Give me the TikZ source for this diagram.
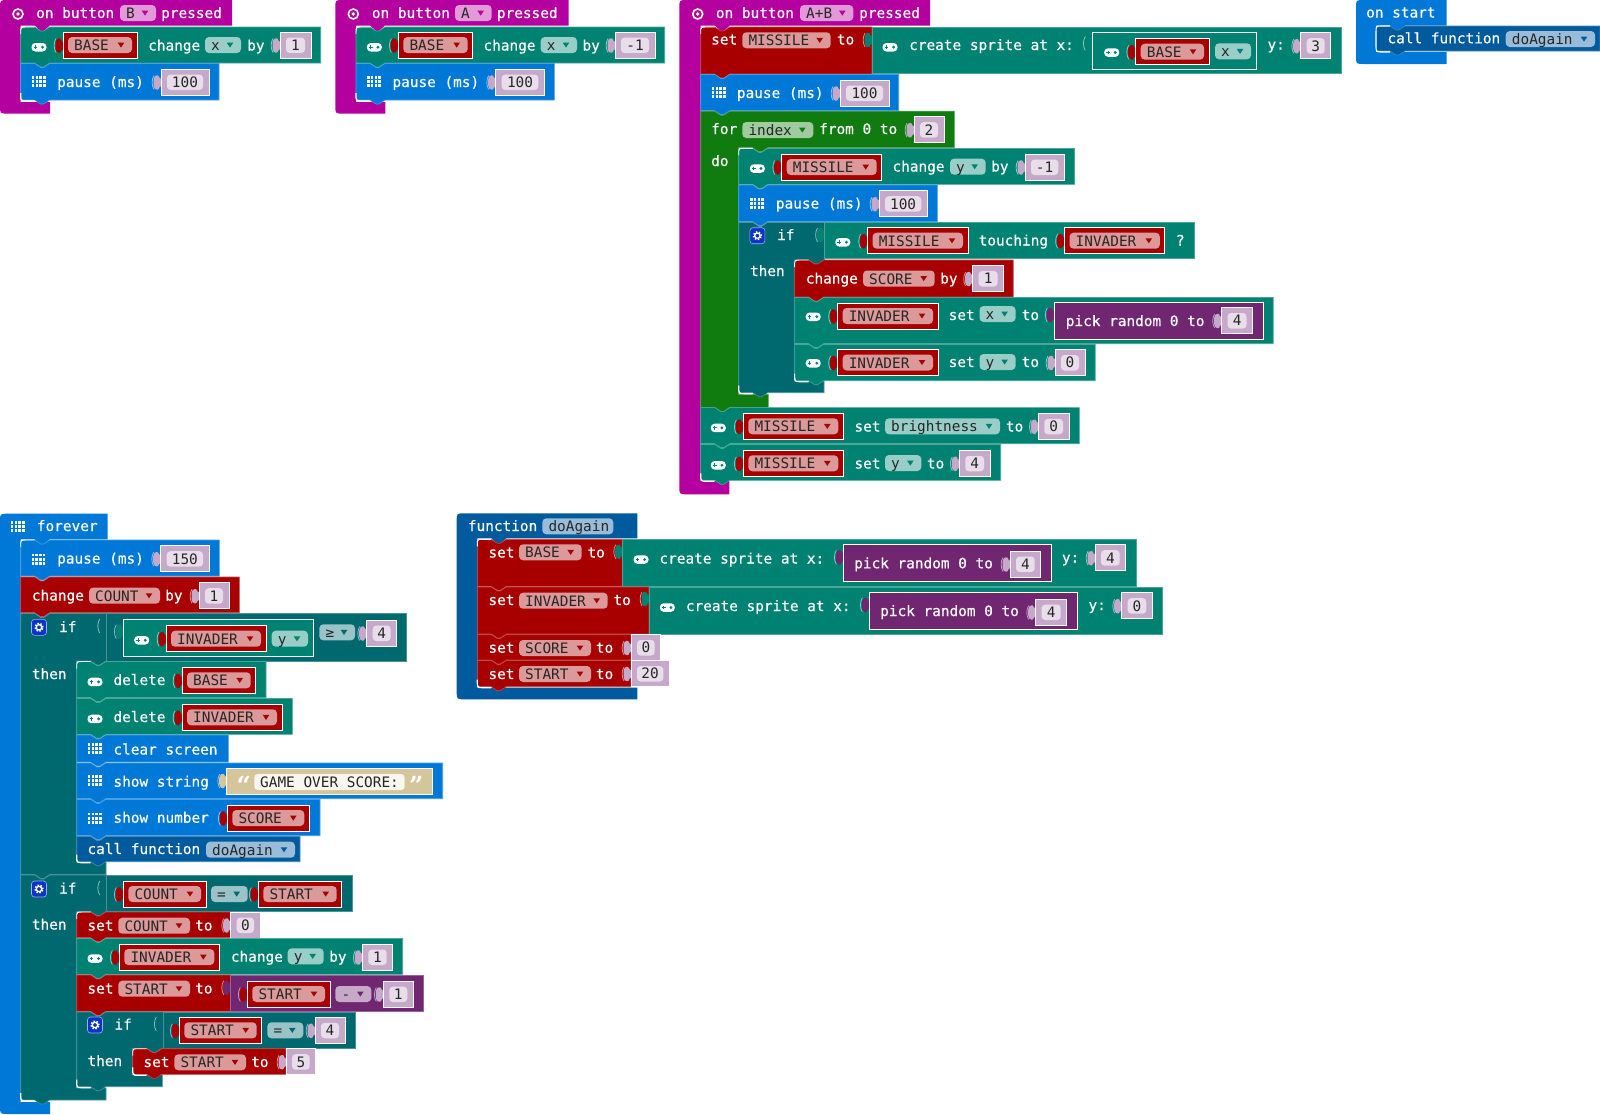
\documentclass[tikz,border=0pt]{standalone}
\usepackage{fontspec}
\setmonofont{DejaVu Sans Mono}
\newfontfamily\lf[FakeBold=0.45]{DejaVu Sans Mono}
\newfontfamily\qf{DejaVu Serif}
\definecolor{cSpr}{HTML}{008272}
\definecolor{cBas}{HTML}{0078D7}
\definecolor{cInp}{HTML}{B4009E}
\definecolor{cVar}{HTML}{A80000}
\definecolor{cLoo}{HTML}{107C10}
\definecolor{cLog}{HTML}{006970}
\definecolor{cMat}{HTML}{712672}
\definecolor{cFun}{HTML}{005A9E}
\definecolor{cTxt}{HTML}{D5C59A}
\definecolor{cSha}{HTML}{C6A8CA}
\definecolor{cFld}{HTML}{E8DEE9}
\definecolor{cGea}{HTML}{0A35C8}
\newcommand\fsz{\fontsize{14.4}{16}\selectfont\ttfamily}
\newcommand\lsz{\fontsize{14.4}{16}\selectfont\lf}
\newcount\nid
\newcommand\cfr{0}
\tikzset{
 blk/.style={fill=#1,draw=#1!72!white,line width=.6pt},
 lbl/.style={text=white,anchor=base west,inner sep=0pt,font=\lsz},
 fld/.style={text=black!85,anchor=base west,inner sep=0pt,font=\fsz},
 fldc/.style={text=black!85,anchor=base,inner sep=0pt,font=\fsz},
 qt/.style={text=white,anchor=base west,inner sep=0pt,font=\fontsize{25}{26}\selectfont\qf\bfseries},
 sock/.style={draw=white,opacity=.55,line width=.8pt}
}
\newcommand\tx[4]{\global\advance\nid by 1 \node[#4] (n\the\nid) at (#1,#2) {#3};}
\newcommand\lab[3]{\tx{#1}{#2}{#3}{lbl}}
% statement block: colour,x,y,right,bottom,top-left radius,bottom-left radius
\newcommand\sblk[7]{%
 \path[blk=#1] (#2,#3+#6) .. controls (#2,#3) .. (#2+#6,#3) -- (#2+14,#3) -- (#2+20,#3+4) -- (#2+23,#3+4) -- (#2+29,#3) -- (#4,#3) -- (#4,#5) -- (#2+29,#5) -- (#2+23,#5+4) -- (#2+20,#5+4) -- (#2+14,#5) -- (#2+#7,#5) .. controls (#2,#5) .. (#2,#5-#7) -- cycle;
 \ifnum#6>0 \draw[white,line width=.9pt] (#2,#3+#6+1) -- (#2,#3+#6) .. controls (#2,#3) .. (#2+#6,#3) -- (#2+14,#3);\fi
 \ifnum#7>0 \draw[white,line width=1.2pt] (#2,#5-#7-1) -- (#2,#5-#7) .. controls (#2,#5+1) .. (#2+#7,#5+1) -- (#2+14,#5+1);\fi
}
% hat block with statement mouth
\newcommand\hatb[9]{%
 \fill[#1] (#2,#3+8) .. controls (#2,#3) .. (#2+8,#3) -- (#4,#3) -- (#4,#5) -- (#6+29,#5) -- (#6+23,#5+5.5) -- (#6+20,#5+5.5) -- (#6+14,#5) -- (#6,#5) -- (#6,#7) -- (#8,#7) -- (#8,#9) -- (#2+8,#9) .. controls (#2,#9) .. (#2,#9-8) -- cycle;
}
% notched C block
\newcommand\cnb[9]{%
 \path[blk=#1] (#2,#3) -- (#2+14,#3) -- (#2+20,#3+4) -- (#2+23,#3+4) -- (#2+29,#3) -- (#4,#3) -- (#4,#5) -- (#6+29,#5) -- (#6+23,#5+4) -- (#6+20,#5+4) -- (#6+14,#5) -- (#6,#5) -- (#6,#7) -- (#8,#7) -- (#8,#9) -- (#2+29,#9) -- (#2+23,#9+4) -- (#2+20,#9+4) -- (#2+14,#9) -- (#2+\cfr,#9) .. controls (#2,#9) .. (#2,#9-\cfr) -- cycle;
 \ifnum\cfr>0 \draw[white,line width=1.2pt] (#2,#9-\cfr-1) -- (#2,#9-\cfr) .. controls (#2,#9+1) .. (#2+\cfr,#9+1) -- (#2+14,#9+1);\fi
 \renewcommand\cfr{0}%
}
\newcommand\vtab[3]{%
 \path[sock] (#2-7,#3-7) .. controls (#2-9.5,#3-3) and (#2-9.5,#3+3) .. (#2-7,#3+7);
 \fill[#1,rounded corners=1.2pt] (#2+.6,#3-4.2) -- (#2-2,#3-4.2) -- (#2-2,#3-7.2) -- (#2-5.5,#3-7.2) -- (#2-7.5,#3-4) -- (#2-7.5,#3+4) -- (#2-5.5,#3+7.2) -- (#2-2,#3+7.2) -- (#2-2,#3+4.2) -- (#2+.6,#3+4.2) -- cycle;
}
% value block: [outline] colour,x,y,right,bottom,tab centre
\newcommand\vblk[7][]{%
 \vtab{#2}{#3}{#7}
 \ifx\relax#1\relax
  \path[blk=#2] (#3,#4) rectangle (#5,#6);
 \else
  \path[fill=#2,draw=#1,line width=.7pt] (#3,#4) rectangle (#5,#6);
 \fi
}
% dropdown field: x,y,right,text,colour
\newcommand\dd[5]{%
 \fill[#5!40!white,rounded corners=4pt] (#1,#2) rectangle (#3,#2+16);
 \tx{#1+6}{#2+13.5}{#4}{fld}
 \fill[#5] (#3-14.3,#2+5.6) -- (#3-7.7,#2+5.6) -- (#3-11,#2+10.6) -- cycle;
}
% variable reporter: x,y,right,text
\newcommand\rep[4]{%
 \vblk[white]{cVar}{#1}{#2}{#3}{#2+26}{#2+13.5}
 \dd{#1+5}{#2+5}{#3-5}{#4}{cVar}
}
% number shadow: x,y,right,text
\newcommand\numb[4]{%
 \vblk[white]{cSha}{#1}{#2}{#3}{#2+26}{#2+13.5}
 \fill[cFld,rounded corners=3.5pt] (#1+6,#2+5.5) rectangle (#3-6,#2+21);
 \tx{0.5*#1+0.5*#3}{#2+18.3}{#4}{fldc}
}
\newcommand\game[2]{%
 \fill[white,rounded corners=3.8pt] (#1-7.5,#2-4) rectangle (#1+7.5,#2+4.5);
 \fill[cSpr] (#1+3.6,#2+.2) circle[radius=1.6pt];
 \fill[cSpr] (#1-5.4,#2-.3) rectangle (#1-1.8,#2+.7);
 \fill[cSpr] (#1-4.1,#2-1.6) rectangle (#1-3.1,#2+2);
}
\newcommand\gridi[2]{%
 \foreach \gi in {0,1,2,3} \foreach \gj in {0,1,2}
  \fill[white] (#1-7.2+\gi*3.75,#2-5.8+\gj*4.1) rectangle +(2.6,2.9);
}
\newcommand\targ[2]{%
 \draw[white,line width=1.6pt] (#1,#2) circle[radius=5pt];
 \fill[white] (#1,#2) circle[radius=1.9pt];
}
\newcommand\gear[2]{%
 \path[fill=cGea,draw=white!60!cGea,line width=.6pt,rounded corners=3pt] (#1-7.5,#2-8) rectangle (#1+7.5,#2+8);
 \draw[white,line width=1.3pt] (#1,#2) circle[radius=2.7pt];
 \draw[white,line width=1.5pt,dash pattern=on 1.45pt off 1.69pt] (#1,#2) circle[radius=4pt];
}
\begin{document}
\begin{tikzpicture}[x=1pt,y=-1pt]
\useasboundingbox (0,0) rectangle (1600,1114);
\fill[white] (0,0) rectangle (1600,1114);

%% on button B
\hatb{cInp}{0}{0}{232}{25.5}{20.7}{102}{50}{113.6}
\targ{18}{14}
\lab{36}{18}{on button}
\dd{120}{5}{156}{B}{cInp}
\lab{161}{18}{pressed}
\sblk{cSpr}{20.7}{27}{320.7}{63}{6}{0}
\game{39}{47}
\rep{63}{32}{137}{BASE}
\lab{148}{50.5}{change}
\dd{205}{37}{241}{x}{cSpr}
\lab{247}{50.5}{by}
\numb{280}{32}{311}{1}
\sblk{cBas}{20.7}{63.5}{219}{100}{0}{6}
\gridi{39}{82}
\lab{57}{87}{pause (ms)}
\numb{161}{69}{209}{100}

%% on button A
\hatb{cInp}{335.3}{0}{568.7}{25.5}{356}{102}{385.3}{113.6}
\targ{353.3}{14}
\lab{371.7}{18}{on button}
\dd{455}{5}{491.7}{A}{cInp}
\lab{496.7}{18}{pressed}
\sblk{cSpr}{356}{27}{664.7}{63}{6}{0}
\game{374.3}{47}
\rep{398.3}{32}{472.7}{BASE}
\lab{483.3}{50.5}{change}
\dd{540.7}{37}{577}{x}{cSpr}
\lab{582.3}{50.5}{by}
\numb{615}{32}{655}{-1}
\sblk{cBas}{356}{63.5}{554.3}{100}{0}{6}
\gridi{374.3}{82}
\lab{392.3}{87}{pause (ms)}
\numb{495.7}{69}{544.3}{100}

%% on button A+B
\hatb{cInp}{679.3}{0}{930}{25.5}{700.7}{481}{729.3}{494.3}
\targ{697.7}{14}
\lab{715.7}{18}{on button}
\dd{800}{5}{853.3}{A+B}{cInp}
\lab{859}{18}{pressed}
\sblk{cVar}{700.7}{27}{872}{74}{6}{0}
\lab{711}{44.5}{set}
\dd{742.3}{32.3}{830.7}{MISSILE}{cVar}
\lab{836.7}{44.5}{to}
\vblk{cSpr}{872}{27}{1341.7}{73.7}{40}
\game{890}{47}
\lab{909}{50}{create sprite at x:}
\vblk[white]{cSpr}{1092.3}{32.3}{1256.7}{69.3}{43.5}
\game{1111.7}{52.3}
\rep{1135.7}{38.7}{1209}{BASE}
\dd{1215}{43.3}{1251}{x}{cSpr}
\lab{1267.3}{49.5}{y:}
\numb{1300.7}{32.7}{1330.7}{3}
\sblk{cBas}{700.7}{74.5}{898.7}{110.7}{0}{0}
\gridi{719}{93}
\lab{736.7}{98}{pause (ms)}
\numb{840}{80}{889}{100}
\cnb{cLoo}{700.7}{111.2}{954.3}{147.7}{738.7}{394.5}{768.3}{407.3}
\lab{711}{134}{for}
\dd{742.3}{122}{813.3}{index}{cLoo}
\lab{819}{134}{from 0 to}
\numb{914}{116.7}{944}{2}
\lab{711}{166}{do}
\sblk{cSpr}{738.7}{148.3}{1074.5}{184.3}{6}{0}
\game{757.3}{168.3}
\rep{781.7}{154}{881.7}{MISSILE}
\lab{892.3}{171.5}{change}
\dd{950}{158.7}{985.7}{y}{cSpr}
\lab{991}{171.5}{by}
\numb{1025}{154}{1064.3}{-1}
\sblk{cBas}{738.7}{185}{937.3}{221.5}{0}{0}
\gridi{757.3}{204}
\lab{775.7}{208.5}{pause (ms)}
\numb{879}{190.7}{927.3}{100}
\renewcommand\cfr{6}
\cnb{cLog}{738.7}{222.3}{824.5}{260}{794.6}{381}{824}{392.7}
\gear{757.4}{235.7}
\lab{777}{240}{if}
\lab{749.8}{276}{then}
\vblk{cSpr}{824.5}{222.3}{1194}{258.7}{235}
\game{842.8}{242}
\rep{867.6}{227.7}{968}{MISSILE}
\lab{978.5}{245.5}{touching}
\rep{1064.5}{227.7}{1164.8}{INVADER}
\lab{1175.8}{245.5}{?}
\sblk{cVar}{794.6}{260}{1013.2}{297}{6}{0}
\lab{805.6}{283.5}{change}
\dd{863}{270.5}{934.7}{SCORE}{cVar}
\lab{940}{283.5}{by}
\numb{972.6}{265.5}{1003.6}{1}
\sblk{cSpr}{794.6}{297.5}{1273.2}{343.7}{0}{0}
\game{813.2}{316.5}
\rep{837.6}{303}{938}{INVADER}
\lab{948.5}{320}{set}
\dd{979.5}{306}{1015.6}{x}{cSpr}
\lab{1021.5}{320}{to}
\vblk[white]{cMat}{1054.2}{302}{1263}{339.5}{315}
\lab{1065.6}{326}{pick random 0 to}
\numb{1221.6}{307.5}{1252.6}{4}
\sblk{cSpr}{794.6}{344.3}{1095.2}{380.7}{0}{6}
\game{813.2}{363}
\rep{837.6}{349.5}{938}{INVADER}
\lab{948.5}{367}{set}
\dd{979.5}{354}{1015.6}{y}{cSpr}
\lab{1021.5}{367}{to}
\numb{1055}{349.5}{1085}{0}
\sblk{cSpr}{700.7}{407.6}{1079.3}{443.7}{0}{0}
\game{718.3}{427.7}
\rep{743.3}{413.3}{843.3}{MISSILE}
\lab{854.3}{431.5}{set}
\dd{885}{418.3}{1000}{brightness}{cSpr}
\lab{1005.7}{431.5}{to}
\numb{1038.3}{413.3}{1069}{0}
\sblk{cSpr}{700.7}{444.3}{1000.7}{480.3}{0}{6}
\game{718.3}{465}
\rep{743.3}{450.3}{843.3}{MISSILE}
\lab{854.3}{468.5}{set}
\dd{885}{455}{921.3}{y}{cSpr}
\lab{926.7}{468.5}{to}
\numb{959.3}{450.3}{990}{4}

%% on start
\hatb{cBas}{1356}{0}{1446.7}{25.7}{1376}{52}{1446.7}{64}
\lab{1366}{17.5}{on start}
\path[blk=cFun] (1382,26) -- (1390,26) -- (1396,30) -- (1399,30) -- (1405,26) -- (1600,26) -- (1600,51) -- (1405,51) -- (1399,55) -- (1396,55) -- (1390,51) -- (1382,51) .. controls (1376,51) .. (1376,45) -- (1376,32) .. controls (1376,26) .. (1382,26) -- cycle;
\draw[white,line width=1.1pt] (1390,26) -- (1382,26) .. controls (1376,26) .. (1376,32) -- (1376,45) .. controls (1376,52) .. (1382,52) -- (1390,52);
\lab{1387.3}{43.3}{call function}
\dd{1505.7}{31}{1595}{doAgain}{cFun}

%% forever
\hatb{cBas}{0}{513.7}{107.7}{539.3}{20.7}{1102}{50}{1114}
\gridi{18}{526.7}
\lab{36.7}{531}{forever}
\sblk{cBas}{20.7}{540}{219.3}{576}{6}{0}
\gridi{38.7}{559.3}
\lab{57}{563.5}{pause (ms)}
\numb{160.7}{545.7}{209}{150}
\sblk{cVar}{20.7}{577}{239.3}{612.7}{0}{0}
\lab{31.7}{600.5}{change}
\dd{89}{587.7}{160}{COUNT}{cVar}
\lab{165}{600.5}{by}
\numb{199}{582.7}{229}{1}
\cnb{cLog}{20.7}{613.5}{106.7}{661}{76.7}{862}{106}{874.5}
\gear{39}{627.3}
\lab{59}{632}{if}
\lab{31.7}{679}{then}
\vblk{cLog}{106.7}{613.5}{406.7}{661}{626}
\vblk[white]{cSpr}{123.3}{619.3}{313.3}{656.7}{631.7}
\game{141.7}{640}
\rep{166}{625.7}{266}{INVADER}
\dd{271.7}{630.7}{308}{y}{cSpr}
\dd{319.3}{624.3}{355}{≥}{cLog}
\numb{366.7}{620}{396.7}{4}
\sblk{cSpr}{76.7}{661.5}{266}{697.7}{6}{0}
\game{95}{681.7}
\lab{113.3}{685}{delete}
\rep{182}{667.3}{255.7}{BASE}
\sblk{cSpr}{76.7}{698.5}{292.3}{734.3}{0}{0}
\game{95}{718.7}
\lab{113.3}{722}{delete}
\rep{182}{704.3}{282}{INVADER}
\sblk{cBas}{76.7}{735}{228.3}{762}{0}{0}
\gridi{95}{749}
\lab{113.3}{754.5}{clear screen}
\sblk{cBas}{76.7}{763}{442.7}{798.7}{0}{0}
\gridi{95}{781}
\lab{113.3}{786.7}{show string}
\vblk[white]{cTxt}{226.7}{768.3}{432.7}{794.3}{781}
\tx{236.5}{794.5}{“}{qt}
\fill[white!85!cTxt,rounded corners=3.5pt] (254.3,774) rectangle (404.7,790);
\tx{260}{787}{GAME OVER SCORE:}{fld}
\tx{409}{794.5}{”}{qt}
\sblk{cBas}{76.7}{799.3}{320}{835.7}{0}{0}
\gridi{95}{818.3}
\lab{113.3}{822.7}{show number}
\rep{227.3}{805}{309.3}{SCORE}
\sblk{cFun}{76.7}{836.5}{300}{861.7}{0}{6}
\lab{87.3}{854}{call function}
\dd{206}{841.7}{295}{doAgain}{cFun}
\renewcommand\cfr{6}
\cnb{cLog}{20.7}{875}{106.7}{911.7}{76.7}{1088}{106}{1100}
\gear{39}{889}
\lab{59}{893.5}{if}
\lab{31.7}{929.5}{then}
\vblk{cLog}{106.7}{875.5}{352}{911.7}{888}
\rep{123.3}{881}{206}{COUNT}
\dd{211}{886}{247.7}{=}{cLog}
\rep{258.3}{881}{341.7}{START}
\sblk{cVar}{76.7}{912}{230.7}{937.7}{6}{0}
\lab{87.3}{930.5}{set}
\dd{118.3}{917.7}{190}{COUNT}{cVar}
\lab{195}{930.5}{to}
\numb{230.7}{912}{260}{0}
\sblk{cSpr}{76.7}{938.3}{402.7}{974.3}{0}{0}
\game{95}{958.3}
\rep{119.3}{944}{219.3}{INVADER}
\lab{230.7}{961.7}{change}
\dd{287.7}{948.3}{323.7}{y}{cSpr}
\lab{329}{961.7}{by}
\numb{362.3}{944}{392.7}{1}
\sblk{cVar}{76.7}{975}{230.7}{1011.3}{0}{0}
\lab{87.3}{993.5}{set}
\dd{118.3}{980.7}{190}{START}{cVar}
\lab{195}{993.5}{to}
\vblk{cMat}{230.7}{975}{423.3}{1011.3}{987.7}
\rep{247.3}{981}{330}{START}
\dd{335.3}{986}{371.3}{-}{cMat}
\numb{383.3}{981}{413.3}{1}
\renewcommand\cfr{6}
\cnb{cLog}{76.7}{1012}{163.3}{1048.3}{132.7}{1075}{162.3}{1086.7}
\gear{95}{1025}
\lab{114.3}{1029.5}{if}
\lab{87.3}{1066}{then}
\vblk{cLog}{163.3}{1012}{355}{1048.3}{1024}
\rep{179.3}{1017.3}{261.7}{START}
\dd{267.3}{1022.3}{303.3}{=}{cLog}
\numb{315}{1017.3}{345}{4}
\sblk{cVar}{132.7}{1048.7}{286}{1074.3}{6}{6}
\lab{143.3}{1067}{set}
\dd{174.3}{1054.3}{246}{START}{cVar}
\lab{251}{1067}{to}
\numb{286}{1048.7}{315.7}{5}

%% function doAgain
\hatb{cFun}{456.7}{513.3}{637.3}{538.3}{477.3}{687.7}{637.3}{699.3}
\lab{467.7}{531}{function}
\fill[cFun!40!white,rounded corners=4pt] (542.3,518.3) rectangle (613.3,534.3);
\tx{548.3}{531.8}{doAgain}{fld}
\sblk{cVar}{477.3}{539.3}{622.7}{586.3}{6}{0}
\lab{488.3}{557.5}{set}
\dd{519}{544.3}{581.7}{BASE}{cVar}
\lab{587.3}{557.5}{to}
\vblk{cSpr}{622.7}{539.3}{1136}{586}{551.7}
\game{641}{559.3}
\lab{659.3}{563.5}{create sprite at x:}
\vblk[white]{cMat}{843.3}{544.7}{1051.7}{581.7}{557.3}
\lab{854}{568.3}{pick random 0 to}
\numb{1010}{551}{1040.7}{4}
\lab{1061.7}{562.5}{y:}
\numb{1095}{544.7}{1125.7}{4}
\sblk{cVar}{477.3}{587}{649}{634}{0}{0}
\lab{488.3}{605}{set}
\dd{519}{592.7}{607.7}{INVADER}{cVar}
\lab{613.3}{605}{to}
\vblk{cSpr}{649}{587}{1162.3}{634}{599}
\game{667.3}{607.3}
\lab{685.7}{611}{create sprite at x:}
\vblk[white]{cMat}{869.3}{592.3}{1077.7}{629.3}{605}
\lab{880}{616}{pick random 0 to}
\numb{1035.7}{599}{1066.7}{4}
\lab{1088.3}{610}{y:}
\numb{1121.7}{592.7}{1152.3}{0}
\sblk{cVar}{477.3}{634.5}{631}{660}{0}{0}
\lab{488.3}{652.7}{set}
\dd{519}{640}{591}{SCORE}{cVar}
\lab{595.7}{652.7}{to}
\numb{631}{634.5}{660.7}{0}
\sblk{cVar}{477.3}{660.5}{631}{686.7}{0}{6}
\lab{488.3}{679}{set}
\dd{519}{666}{591}{START}{cVar}
\lab{595.7}{679}{to}
\numb{631}{660.5}{669.3}{20}
\end{tikzpicture}
\end{document}
